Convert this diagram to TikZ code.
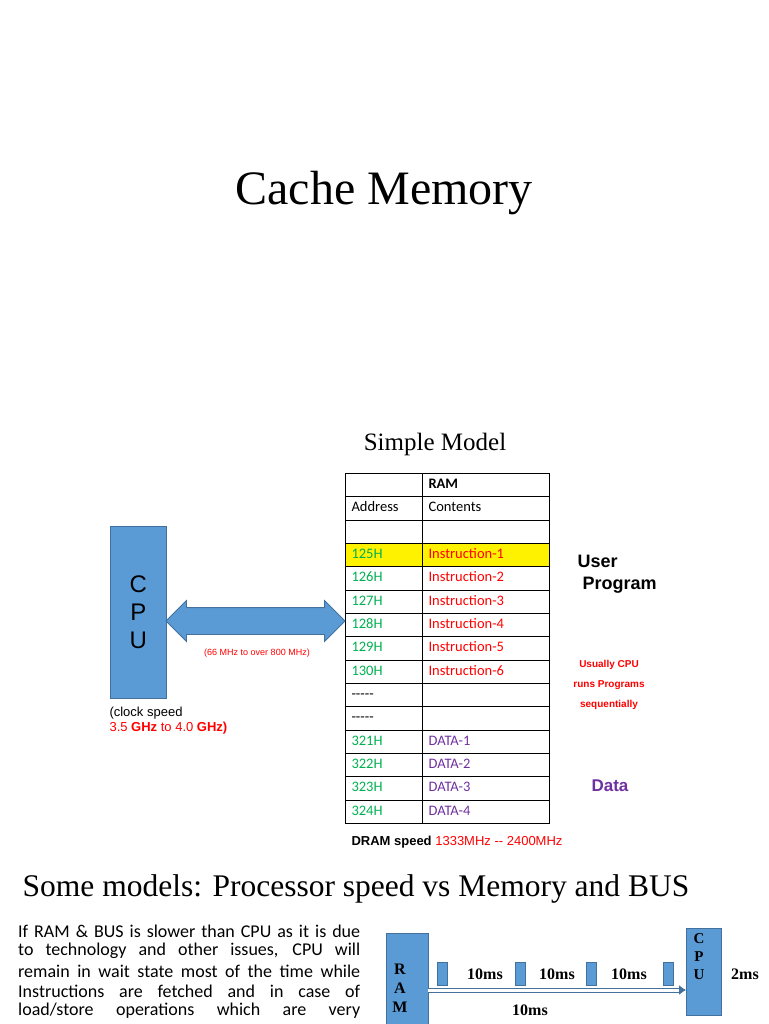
\documentclass[tikz,border=0pt]{standalone}
\usepackage{fontspec}
\setmainfont{Liberation Serif}
\newfontfamily\crl{Carlito}
\newfontfamily\ars{Liberation Sans}
\usetikzlibrary{shapes.arrows,arrows.meta}
\definecolor{grn}{HTML}{00B050}
\definecolor{prp}{HTML}{7030A0}
\definecolor{blu}{HTML}{5B9BD5}
\definecolor{bld}{HTML}{41719C}
\begin{document}
\begin{tikzpicture}[x=1pt,y=-1pt,
 cell/.style={draw=black,line width=0.6pt,minimum height=23.33pt,anchor=north west,inner sep=0pt},
 adr/.style={cell,minimum width=77pt},
 cnt/.style={cell,minimum width=127pt},
 ctx/.style={anchor=west,text height=10pt,text depth=3pt,font=\crl\fontsize{14.5}{16}\selectfont},
 box/.style={draw=bld,fill=blu,line width=0.8pt},
 ms/.style={font=\fontsize{16}{18}\selectfont\bfseries}]
\useasboundingbox (0,0) rectangle (768,1024);
\node (title) at (384,193) {\fontsize{48}{52}\selectfont Cache Memory};
\node (sm) at (435,444) {\fontsize{25}{28}\selectfont Simple Model};
% table
\foreach \i/\a/\c/\ac/\cc in {0//\textbf{RAM}/black/black,1/Address/Contents/black/black,2///black/black,
 3/125H/Instruction-1/grn/red,4/126H/Instruction-2/grn/red,5/127H/Instruction-3/grn/red,6/128H/Instruction-4/grn/red,
 7/129H/Instruction-5/grn/red,8/130H/Instruction-6/grn/red,9/-----//black/black,10/-----//black/black,
 11/321H/DATA-1/grn/prp,12/322H/DATA-2/grn/prp,13/323H/DATA-3/grn/prp,14/324H/DATA-4/grn/prp}{
 \pgfmathsetmacro\yy{473+23.33*\i}
 \ifnum\i=3
  \node[adr,fill=yellow] (a\i) at (345,\yy) {};
  \node[cnt,fill=yellow] (c\i) at (422,\yy) {};
 \else
  \node[adr] (a\i) at (345,\yy) {};
  \node[cnt] (c\i) at (422,\yy) {};
 \fi
 \node[ctx,text=\ac] (ta\i) at ([xshift=3pt]a\i.west) {\a};
 \node[ctx,text=\cc] (tc\i) at ([xshift=3pt,yshift=\ifnum\i=0 4\else 0\fi pt]c\i.west) {\c};
}
% CPU
\node[box,minimum width=56pt,minimum height=172pt,anchor=north west,align=center,font=\ars\fontsize{24}{28}\selectfont] (cpu) at (110,526) {C\\P\\U};
\node[double arrow,box,double arrow head extend=7pt,minimum height=179pt,minimum width=40pt,inner sep=0pt,anchor=center] (bus) at (255.5,621) {\rule{0pt}{26pt}};
\node[text=red,font=\ars\fontsize{9}{11}\selectfont] (busl) at (257,653) {(66 MHz to over 800 MHz)};
\node[anchor=west,font=\ars\fontsize{13}{15}\selectfont,align=left] (clk) at (106,721) {(clock speed\\\textcolor{red}{3.5 \textbf{GHz} to 4.0 \textbf{GHz)}}};
\node[anchor=west,font=\ars\bfseries\fontsize{18}{22}\selectfont,align=left] (up) at (574,574) {User\\\ Program};
\node[text=red,font=\ars\bfseries\fontsize{10}{20}\selectfont,align=center] (usu) at (609,685) {Usually CPU\\runs Programs\\sequentially};
\node[text=prp,font=\ars\bfseries\fontsize{17}{20}\selectfont] (data) at (610,786) {Data};
\node[font=\ars\fontsize{13}{15}\selectfont] (dram) at (457,842) {\textbf{DRAM speed} \textcolor{red}{1333MHz -- 2400MHz}};
\node (sub) at (356,889) {\fontsize{31.5}{34}\selectfont Some models: Processor speed vs Memory and BUS};
% paragraph
\foreach \t [count=\k from 0] in {If RAM \& BUS is slower than CPU as it is due,to technology and other issues{,} CPU will,remain in wait state most of the time while,Instructions are fetched and in case of,load/store operations which are very}{
 \node[anchor=west,inner sep=0pt,font=\crl\fontsize{18}{20}\selectfont] (p\k) at (18,931+20*\k) {\makebox[342pt][s]{\t}};
}
% bottom model
\node[box,minimum width=42pt,minimum height=110pt,anchor=north west] (ram2) at (386,933) {};
\node[font=\bfseries\fontsize{16}{19}\selectfont,align=center,anchor=north] (raml) at (400,960) {R\\A\\M};
\node[box,minimum width=35pt,minimum height=87pt,anchor=north west] (cpu2) at (686,928) {};
\node[font=\bfseries\fontsize{15}{18}\selectfont,align=center,anchor=north] (cpul) at (699,930) {C\\P\\U};
\coordinate (s) at (428,990);
\coordinate (e) at (686,990);
\draw[double=white,draw=bld,double distance=3pt,line width=1pt,-{Latex[length=7pt,width=10pt]}] (s) -- (e);
\foreach \xx [count=\k] in {437,515,586,663}{
 \node[box,minimum width=10pt,minimum height=23pt,inner sep=0pt,anchor=north west] (pk\k) at (\xx,962) {};
}
\node[ms] (m1) at (485,974) {10ms};
\node[ms] (m2) at (557,974) {10ms};
\node[ms] (m3) at (629,974) {10ms};
\node[ms] (m4) at (530,1010) {10ms};
\node[ms] (m5) at (745,974) {2ms};
\end{tikzpicture}
\end{document}
